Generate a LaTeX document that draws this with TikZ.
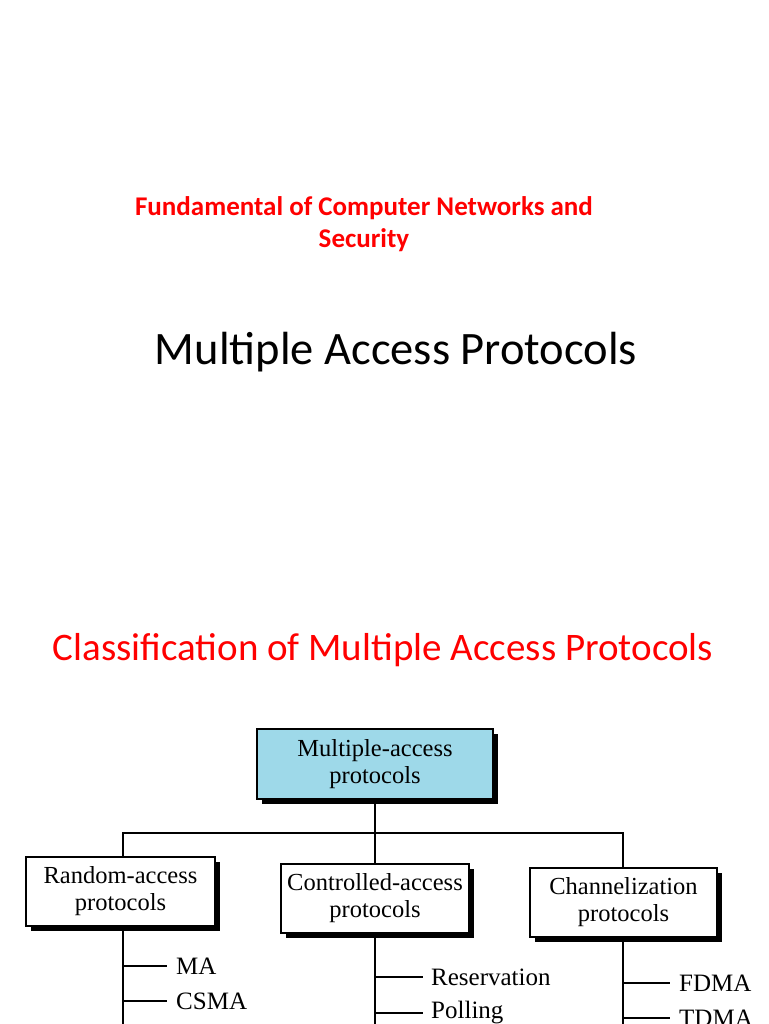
\documentclass[tikz,border=0pt]{standalone}
\usepackage{fontspec}
\setmainfont{Carlito}
\newfontfamily\serifd{Liberation Serif}
\definecolor{boxblue}{HTML}{9ED9E9}
\begin{document}
\begin{tikzpicture}[x=1pt,y=-1pt,
  box/.style={draw,line width=1.3pt,fill=white,align=center,inner sep=0pt,
    font=\serifd\fontsize{24.5}{27}\selectfont},
  ln/.style={line width=2.5pt},
  leaf/.style={anchor=west,font=\serifd\fontsize{25}{28}\selectfont,inner sep=0pt}]
\useasboundingbox (0,0) rectangle (768,1024);
\clip (0,0) rectangle (768,1024);
\node[text=red,font=\bfseries\fontsize{27}{32}\selectfont,align=center] (t1) at (364,224) {Fundamental of Computer Networks and\\Security};
\node[font=\fontsize{46.5}{50}\selectfont] (t2) at (396,352) {Multiple Access Protocols};
\node[text=red,font=\fontsize{39}{44}\selectfont] (t3) at (383,650) {Classification of Multiple Access Protocols};
% shadows
\fill (262,734) rectangle (498,804);
\fill (31,862) rectangle (220,931);
\fill (286,869) rectangle (474,938);
\fill (535,873) rectangle (722,942);
\node[box,fill=boxblue,minimum width=236pt,minimum height=70pt] (top) at (375,764) {Multiple-access\\protocols};
\node[box,minimum width=189pt,minimum height=69pt] (ra) at (120.5,891.5) {Random-access\\protocols};
\node[box,minimum width=188pt,minimum height=69pt] (ca) at (375,898.5) {Controlled-access\\protocols};
\node[box,minimum width=187pt,minimum height=69pt] (ch) at (623.5,902.5) {Channelization\\protocols};
\coordinate (j) at (375,833);
\draw[ln] (top.south) -- (j);
\draw[ln] (ra.north -| 123,0) |- (623,833) -- (ch.north -| 623,0);
\draw[ln] (j) -- (ca.north);
% trunks
\coordinate (e1) at (123,1030); \coordinate (e2) at (375,1030); \coordinate (e3) at (623,1030);
\draw[ln] (ra.south -| 123,0) -- (e1);
\draw[ln] (ca.south) -- (e2);
\draw[ln] (ch.south -| 623,0) -- (e3);
\node[leaf] (ma) at (176,966) {MA};
\node[leaf] (csma) at (176,1001) {CSMA};
\node[leaf] (res) at (431,977) {Reservation};
\node[leaf] (pol) at (431,1013) {Polling};
\node[leaf] (fd) at (679,983) {FDMA};
\node[leaf] (td) at (679,1018) {TDMA};
\draw[ln] (123,966) -- (167,966);
\draw[ln] (123,1001) -- (167,1001);
\draw[ln] (375,977) -- (423,977);
\draw[ln] (375,1013) -- (423,1013);
\draw[ln] (623,983) -- (670,983);
\draw[ln] (623,1018) -- (670,1018);
\end{tikzpicture}
\end{document}
